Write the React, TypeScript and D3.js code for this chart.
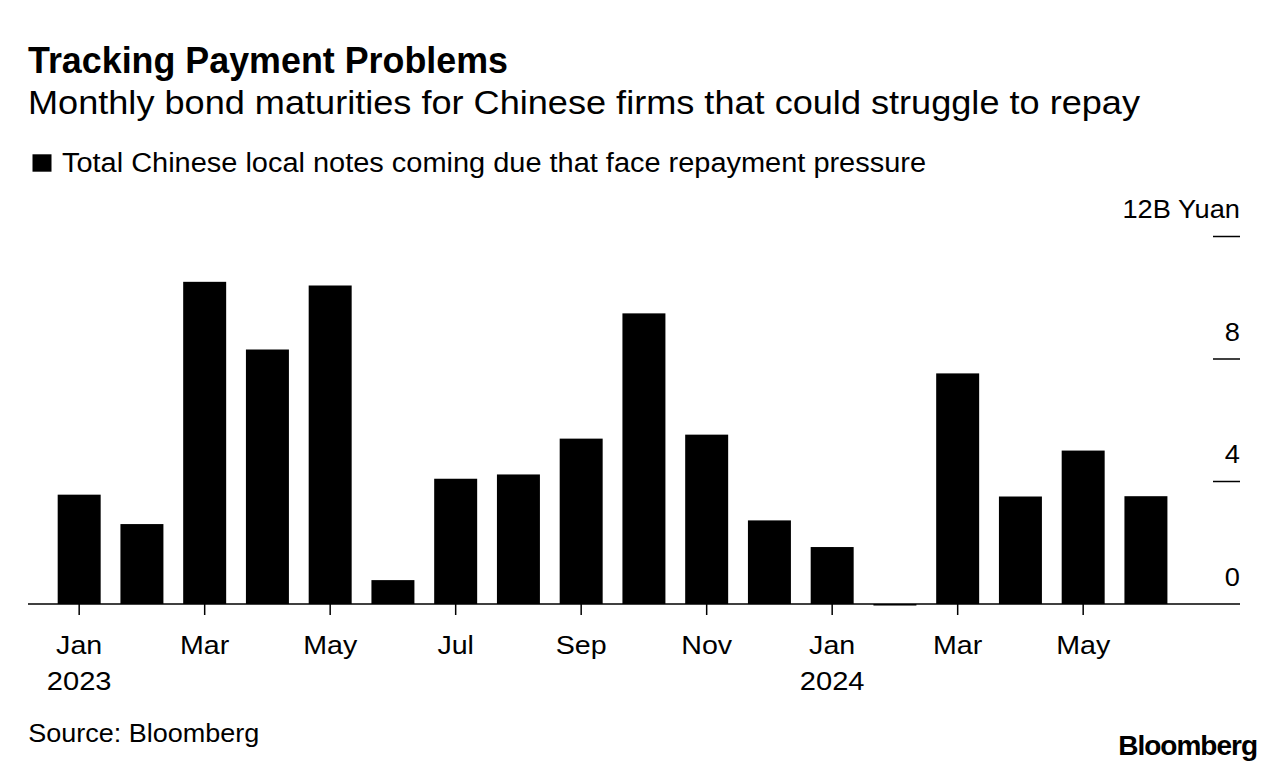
import React from "react";
import * as d3 from "d3";

// Monthly bond maturities facing repayment pressure (billion yuan)
const months: string[] = [
  "2023-01", "2023-02", "2023-03", "2023-04", "2023-05", "2023-06",
  "2023-07", "2023-08", "2023-09", "2023-10", "2023-11", "2023-12",
  "2024-01", "2024-02", "2024-03", "2024-04", "2024-05", "2024-06",
];
const maturities: number[] = [
  3.57, 2.61, 10.52, 8.31, 10.4, 0.78,
  4.09, 4.23, 5.4, 9.49, 5.53, 2.73,
  1.86, -0.05, 7.53, 3.51, 5.01, 3.52,
];
const xTickLabels: { month: string; label: string; year?: string }[] = [
  { month: "2023-01", label: "Jan", year: "2023" },
  { month: "2023-03", label: "Mar" },
  { month: "2023-05", label: "May" },
  { month: "2023-07", label: "Jul" },
  { month: "2023-09", label: "Sep" },
  { month: "2023-11", label: "Nov" },
  { month: "2024-01", label: "Jan", year: "2024" },
  { month: "2024-03", label: "Mar" },
  { month: "2024-05", label: "May" },
];
const yTicks: number[] = [0, 4, 8, 12];

const W = 1286;
const H = 772;
const FONT = "'Liberation Sans', Arial, Helvetica, sans-serif";

type LabelProps = {
  x: number;
  y: number;
  size: number;
  sx?: number;
  bold?: boolean;
  anchor?: "start" | "middle" | "end";
  width?: number;
  spacing?: number;
  children: React.ReactNode;
};

// Text placed at (x, y) with an optional horizontal stretch or fixed width
function Label({ x, y, size, sx = 1, bold, anchor = "start", width, spacing, children }: LabelProps) {
  return (
    <text
      transform={`translate(${x},${y}) scale(${sx},1)`}
      fontSize={size}
      fontWeight={bold ? "bold" : "normal"}
      textAnchor={anchor}
      fill="#000"
      letterSpacing={spacing}
      textLength={width}
      lengthAdjust={width ? "spacingAndGlyphs" : undefined}
    >
      {children}
    </text>
  );
}

export default function App() {
  const x = d3
    .scaleBand<string>()
    .domain(months)
    .range([47.8, 1177.3])
    .paddingInner(0.315)
    .paddingOuter(0.1575);
  const y = d3.scaleLinear().domain([0, 12]).range([604, 236.5]);

  const axisLeft = 28;
  const axisRight = 1240;

  return (
    <svg
      width={W}
      height={H}
      viewBox={`0 0 ${W} ${H}`}
      style={{ position: "absolute", left: 0, top: 0, background: "#fff" }}
      fontFamily={FONT}
    >
      {/* Headline and subtitle */}
      <Label x={28} y={73.3} size={36} bold width={480}>
        Tracking Payment Problems
      </Label>
      <Label x={28} y={114} size={32.5} width={1112}>
        Monthly bond maturities for Chinese firms that could struggle to repay
      </Label>

      {/* Legend */}
      <rect x={32.5} y={154.3} width={19} height={17.4} fill="#000" />
      <Label x={62} y={171.7} size={27} width={864}>
        Total Chinese local notes coming due that face repayment pressure
      </Label>

      {/* Bars */}
      {months.map((m, i) => {
        const v = maturities[i];
        const y0 = y(0);
        const yv = y(v);
        return (
          <rect
            key={m}
            x={x(m)}
            y={Math.min(y0, yv)}
            width={x.bandwidth()}
            height={Math.abs(yv - y0)}
            fill="#000"
          />
        );
      })}

      {/* Right-hand value axis */}
      {yTicks.map((t) => (
        <g key={t}>
          {t !== 0 && (
            <line x1={1213} x2={axisRight} y1={y(t)} y2={y(t)} stroke="#000" strokeWidth={1.5} />
          )}
          <Label x={axisRight} y={y(t) - 18.5} size={25} sx={1.09} anchor="end">
            {t === 12 ? "12B Yuan" : String(t)}
          </Label>
        </g>
      ))}

      {/* Baseline */}
      <line x1={axisLeft} x2={axisRight} y1={y(0)} y2={y(0)} stroke="#000" strokeWidth={1.5} />

      {/* Month ticks and labels */}
      {xTickLabels.map((t) => {
        const cx = (x(t.month) ?? 0) + x.bandwidth() / 2;
        return (
          <g key={t.month}>
            <line x1={cx} x2={cx} y1={y(0)} y2={y(0) + 11} stroke="#000" strokeWidth={1.5} />
            <Label x={cx} y={654} size={26} sx={1.1} anchor="middle">
              {t.label}
            </Label>
            {t.year && (
              <Label x={cx} y={690} size={26} sx={1.12} anchor="middle">
                {t.year}
              </Label>
            )}
          </g>
        );
      })}

      {/* Footer */}
      <Label x={28.3} y={742} size={25.5} width={231}>
        Source: Bloomberg
      </Label>
      <Label x={1257} y={755} size={28} bold anchor="end" spacing={-1}>
        Bloomberg
      </Label>
    </svg>
  );
}
